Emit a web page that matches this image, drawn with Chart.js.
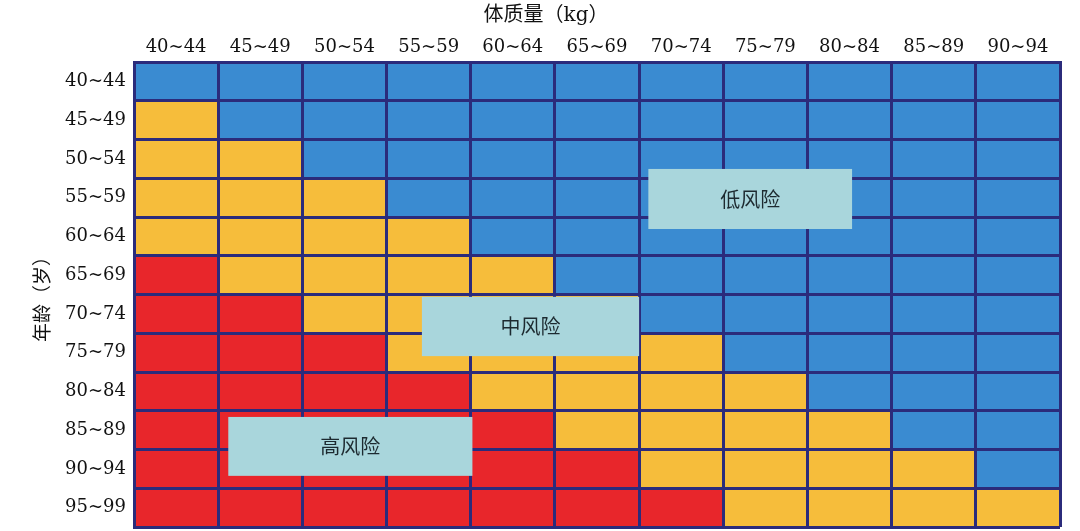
<!DOCTYPE html>
<html>
<head>
<meta charset="utf-8">
<script src="https://cdn.jsdelivr.net/npm/chart.js@4/dist/chart.umd.min.js"></script>
<style>
  html, body { margin: 0; padding: 0; background: #ffffff; }
  #wrap { width: 1080px; height: 531px; }
</style>
</head>
<body>
<div id="wrap"><canvas id="c" width="1080" height="531"></canvas></div>
<script>
// ---- data ----
const weightLabels = ['40~44','45~49','50~54','55~59','60~64','65~69','70~74','75~79','80~84','85~89','90~94'];
const ageLabels = ['40~44','45~49','50~54','55~59','60~64','65~69','70~74','75~79','80~84','85~89','90~94','95~99'];
// risk level for each age row across weight columns: 0 = 低风险, 1 = 中风险, 2 = 高风险
const riskRows = [
  [0,0,0,0,0,0,0,0,0,0,0],
  [1,0,0,0,0,0,0,0,0,0,0],
  [1,1,0,0,0,0,0,0,0,0,0],
  [1,1,1,0,0,0,0,0,0,0,0],
  [1,1,1,1,0,0,0,0,0,0,0],
  [2,1,1,1,1,0,0,0,0,0,0],
  [2,2,1,1,1,1,0,0,0,0,0],
  [2,2,2,1,1,1,1,0,0,0,0],
  [2,2,2,2,1,1,1,1,0,0,0],
  [2,2,2,2,2,1,1,1,1,0,0],
  [2,2,2,2,2,2,1,1,1,1,0],
  [2,2,2,2,2,2,2,1,1,1,1]
];
const riskNames = ['低风险','中风险','高风险'];
const xTitle = '体质量（kg）';
const yTitle = '年龄（岁）';

// ---- styles / annotation placement (in column / row units) ----
const riskColors = ['#3a8bd1', '#f6bd3b', '#e8262b'];
const gridColor = '#2b2b7b';
const zoneBoxes = [
  { level: 0, x0: 6.11, x1: 8.53, y0: 2.76, y1: 4.31 },
  { level: 1, x0: 3.42, x1: 6.00, y0: 6.06, y1: 7.59 },
  { level: 2, x0: 1.12, x1: 4.02, y0: 9.16, y1: 10.68 }
];
const serif = "'DejaVu Serif', 'Noto Sans CJK SC', serif";

const datasets = weightLabels.map((w, j) => ({
  label: w,
  data: ageLabels.map(() => 1),
  backgroundColor: riskRows.map(r => riskColors[r[j]]),
  borderWidth: 0,
  barPercentage: 1,
  categoryPercentage: 1,
  xAxisID: 'x',
  yAxisID: 'y',
  stack: 'grid'
}));

const zonePlugin = {
  id: 'zones',
  afterDraw(chart) {
    const { ctx } = chart;
    const xs = chart.scales.x, ys = chart.scales.y;
    ctx.save();
    zoneBoxes.forEach(b => {
      const l = xs.getPixelForValue(b.x0), r = xs.getPixelForValue(b.x1);
      const t = ys.getPixelForValue(b.y0 - 0.5), btm = ys.getPixelForValue(b.y1 - 0.5);
      ctx.fillStyle = '#a9d6dc';
      ctx.fillRect(l, t, r - l, btm - t);
      ctx.fillStyle = '#1d2a30';
      ctx.font = "20px 'Noto Sans CJK SC', sans-serif";
      ctx.textAlign = 'center';
      ctx.textBaseline = 'middle';
      ctx.fillText(riskNames[b.level], (l + r) / 2, (t + btm) / 2);
    });
    ctx.restore();
  }
};

new Chart(document.getElementById('c'), {
  type: 'bar',
  data: { labels: ageLabels, datasets },
  options: {
    indexAxis: 'y',
    responsive: false,
    animation: false,
    layout: { padding: { left: 32, right: 20, top: 0, bottom: 4 } },
    plugins: {
      legend: { display: false },
      tooltip: { enabled: false },
      title: {
        display: true,
        text: xTitle,
        color: '#111',
        font: { family: serif, size: 20, weight: 'normal' },
        padding: { top: 4, bottom: 0 }
      }
    },
    scales: {
      x: {
        type: 'linear',
        display: false,
        stacked: true,
        min: 0,
        max: weightLabels.length
      },
      xTop: {
        type: 'category',
        axis: 'x',
        labels: weightLabels,
        position: 'top',
        offset: true,
        z: 1,
        grid: { offset: true, color: gridColor, lineWidth: 3, drawTicks: false, z: 1 },
        border: { display: true, color: gridColor, width: 3, z: 1 },
        ticks: { color: '#111', font: { family: serif, size: 18 }, padding: 4, maxRotation: 0, autoSkip: false },
        afterFit(scale) { scale.height = 62 - 28; scale.paddingLeft = 0; scale.paddingRight = 0; }
      },
      y: {
        type: 'category',
        labels: ageLabels,
        position: 'left',
        offset: true,
        stacked: true,
        z: 1,
        grid: { offset: true, color: gridColor, lineWidth: 3, drawTicks: false, z: 1 },
        border: { display: true, color: gridColor, width: 3, z: 1 },
        ticks: { color: '#111', font: { family: serif, size: 18 }, padding: 8, autoSkip: false },
        title: {
          display: true,
          text: yTitle,
          color: '#111',
          font: { family: serif, size: 19, weight: 'normal' },
          padding: { top: 1, bottom: 0 }
        },
        afterFit(scale) { scale.width = 102; scale.paddingTop = 0; scale.paddingBottom = 0; }
      }
    }
  },
  plugins: [zonePlugin]
});
</script>
</body>
</html>
